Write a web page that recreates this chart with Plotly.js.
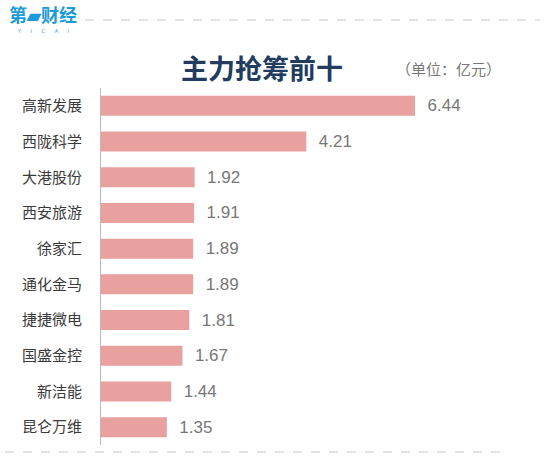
<!DOCTYPE html>
<html><head><meta charset="utf-8">
<script src="https://cdn.plot.ly/plotly-3.0.1.min.js"></script>
<style>html,body{margin:0;padding:0;background:#fff}#chart{width:554px;height:465px}</style>
</head><body><div id="chart"></div>
<script>
const categories = ["高新发展","西陇科学","大港股份","西安旅游","徐家汇","通化金马","捷捷微电","国盛金控","新洁能","昆仑万维"];
const values = [6.44,4.21,1.92,1.91,1.89,1.89,1.81,1.67,1.44,1.35];
const titleText = "主力抢筹前十";
const unitText = "（单位：亿元）";

const L=101, W=439, T=88, H=357;
const px = x => (x-L)/W;
const py = y => (T+H-y)/H;

const trace = {
  type:'bar', orientation:'h',
  y: categories, x: values,
  marker:{color:'#e8a19f', line:{width:0}},
  width:0.56,
  text: values.map(v=>'  '+v.toFixed(2)),
  textposition:'outside', cliponaxis:false,
  textfont:{family:'Liberation Sans, Arial, sans-serif', size:17, color:'#777'},
  hoverinfo:'none'
};
function ann(x,y,text,font){
  return {xref:'paper', yref:'paper', x:px(x), y:py(y), xanchor:'center', yanchor:'middle', text:text, showarrow:false, font:font};
}
const layout = {
  width:554, height:465,
  margin:{l:L, r:554-L-W, t:T, b:465-T-H},
  paper_bgcolor:'#fff', plot_bgcolor:'#fff',
  showlegend:false,
  xaxis:{range:[0,9], visible:false, fixedrange:true},
  yaxis:{autorange:'reversed', showline:true, linecolor:'#bbbbbb', linewidth:1,
    showgrid:false, zeroline:false, ticks:'', ticklabelstandoff:15,
    tickfont:{family:'Noto Sans CJK SC, sans-serif', size:15, color:'#3a3a3a'}},
  bargap:0.44,
  shapes:[
    {type:'line', xref:'paper', yref:'paper', x0:px(85), x1:px(540), y0:py(20), y1:py(20), line:{color:'#c8c8c8', width:1, dash:'dash'}},
    {type:'line', xref:'paper', yref:'paper', x0:px(5), x1:px(503), y0:py(452), y1:py(452), line:{color:'#c8c8c8', width:1, dash:'dash'}}
  ],
  annotations:[
    ann(262,67,'<b>'+titleText+'</b>',{family:'Noto Sans CJK SC, sans-serif', size:27, color:'#213c5e'}),
    ann(448,68,unitText,{family:'Noto Sans CJK SC, sans-serif', size:15, color:'#777'}),
    ann(43,14,'<b>第▰财经</b>',{family:'Noto Sans CJK SC, sans-serif', size:18, color:'#1d9ad8'}),
    ann(43,31,'Y      I      C      A      I',{family:'DejaVu Sans, sans-serif', size:5, color:'#1d9ad8'})
  ]
};
Plotly.newPlot('chart',[trace],layout,{staticPlot:true, displayModeBar:false});
</script></body></html>
